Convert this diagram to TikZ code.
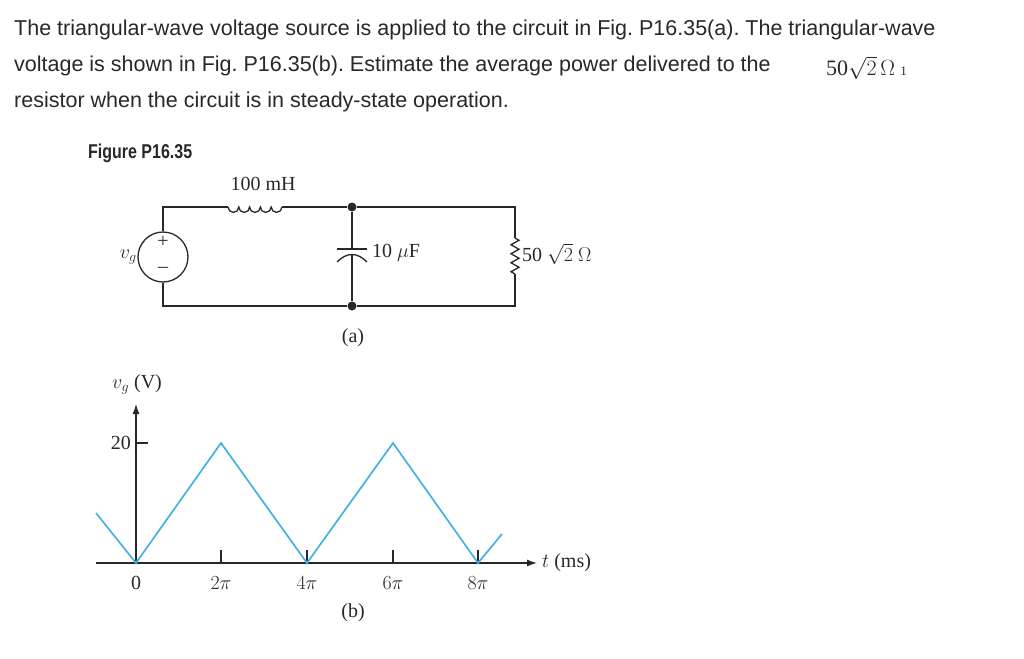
\RequirePackage{fix-cm}
\documentclass[tikz,border=0pt]{standalone}
\usepackage{fontspec}
\setmainfont{Liberation Serif}
\newfontfamily\hel{Liberation Sans}
\usetikzlibrary{arrows.meta,decorations.pathmorphing}
\definecolor{wave}{RGB}{70,175,230}
\definecolor{ink}{RGB}{40,40,40}
\frenchspacing
\tikzset{
  body/.style={anchor=base west,font=\hel\fontsize{21.5}{22}\selectfont,text=ink,inner sep=0},
  lab/.style={font=\fontsize{20}{22}\selectfont,text=ink,inner sep=0},
  wire/.style={draw=ink,line width=1.3pt},
  dot/.style={circle,fill=ink,inner sep=0,minimum size=9pt},
}
\begin{document}
\begin{tikzpicture}[x=1pt,y=-1pt]
\useasboundingbox (0,0) rectangle (1024,658);
% question text
\node[body] (l1) at (14,36) {The triangular-wave voltage source is applied to the circuit in Fig. P16.35(a). The triangular-wave};
\node[body] (l2) at (14,72) {voltage is shown in Fig. P16.35(b). Estimate the average power delivered to the};
\node[anchor=base west,inner sep=0,font=\fontsize{22}{22}\selectfont,text=ink] (l2b) at (826,76) {50$\sqrt{2}\,\Omega$ \fontsize{13}{13}\selectfont 1};
\node[body] (l3) at (14,108) {resistor when the circuit is in steady-state operation.};
\node[anchor=base west,inner sep=0,font=\hel\bfseries\fontsize{20}{20}\selectfont,text=ink,xscale=0.8] (fig) at (88,158) {Figure P16.35};
% circuit (a)
\coordinate (tl) at (163,207); \coordinate (bl) at (163,306);
\coordinate (tr) at (515,207); \coordinate (br) at (515,306);
\coordinate (li) at (228,207); \coordinate (ri) at (282,207);
\node[dot] (nt) at (352,207) {}; \node[dot] (nb) at (352,306) {};
\node[circle,draw=ink,line width=1.3pt,minimum size=50pt,inner sep=0] (src) at (163,257) {};
\node[lab] at (163,242) {+}; \node[lab] at (163,270) {--};
\node[lab,anchor=east] (vg) at (137,257) {$v_g$};
\draw[wire] (src.north) -- (tl) -- (li);
\draw[wire] (li) \foreach \i in {0,...,4} {arc[start angle=180,end angle=0,radius=5.4]};
\draw[wire] (ri) -- (nt) -- (tr) -- (515,238);
\draw[wire,decoration={zigzag,segment length=9pt,amplitude=4pt},decorate] (515,238) -- (515,274);
\draw[wire] (515,274) -- (br) -- (nb) -- (bl) -- (src.south);
\draw[wire] (nt) -- (352,249);
\draw[wire] (337,249) -- (367,249);
\draw[wire] (337,262) .. controls (347,252) and (357,252) .. (367,262);
\draw[wire] (352,255) -- (nb);
\node[lab] (lL) at (263,184) {100 mH};
\node[lab,anchor=west] (lC) at (372,253) {10 $\mu$F};
\node[lab,anchor=west] (lR) at (522,254) {50 $\sqrt{2}$ $\Omega$};
\node[lab] (a) at (353,338) {(a)};
% graph (b)
\coordinate (o) at (136,563);
\draw[wire,line width=1.2pt,-{Latex[length=10pt,width=7pt]}] (96,563) -- (537,563);
\draw[wire,line width=1.2pt,-{Latex[length=10pt,width=7pt]}] (o) -- (136,404);
\draw[wire,line width=1.2pt] (136,443) -- (148,443);
\foreach \x/\t in {221/2\pi,307/4\pi,393/6\pi,478/8\pi}{
  \draw[wire,line width=1.2pt] (\x,563) -- (\x,550);
  \node[lab] at (\x,583) {$\t$};
}
\node[lab] (z) at (136,583) {0};
\node[lab,anchor=east] (t20) at (131,443) {20};
\node[lab,anchor=west] (tl2) at (542,563) {$t$ (ms)};
\node[lab] (vgl) at (137,384) {$v_g$ (V)};
\draw[wave,line width=1.7pt] (96,513) -- (136,563) -- (221,443) -- (307,563) -- (393,443) -- (478,563) -- (502,534);
\node[lab] (b) at (353,613) {(b)};
\end{tikzpicture}
\end{document}
